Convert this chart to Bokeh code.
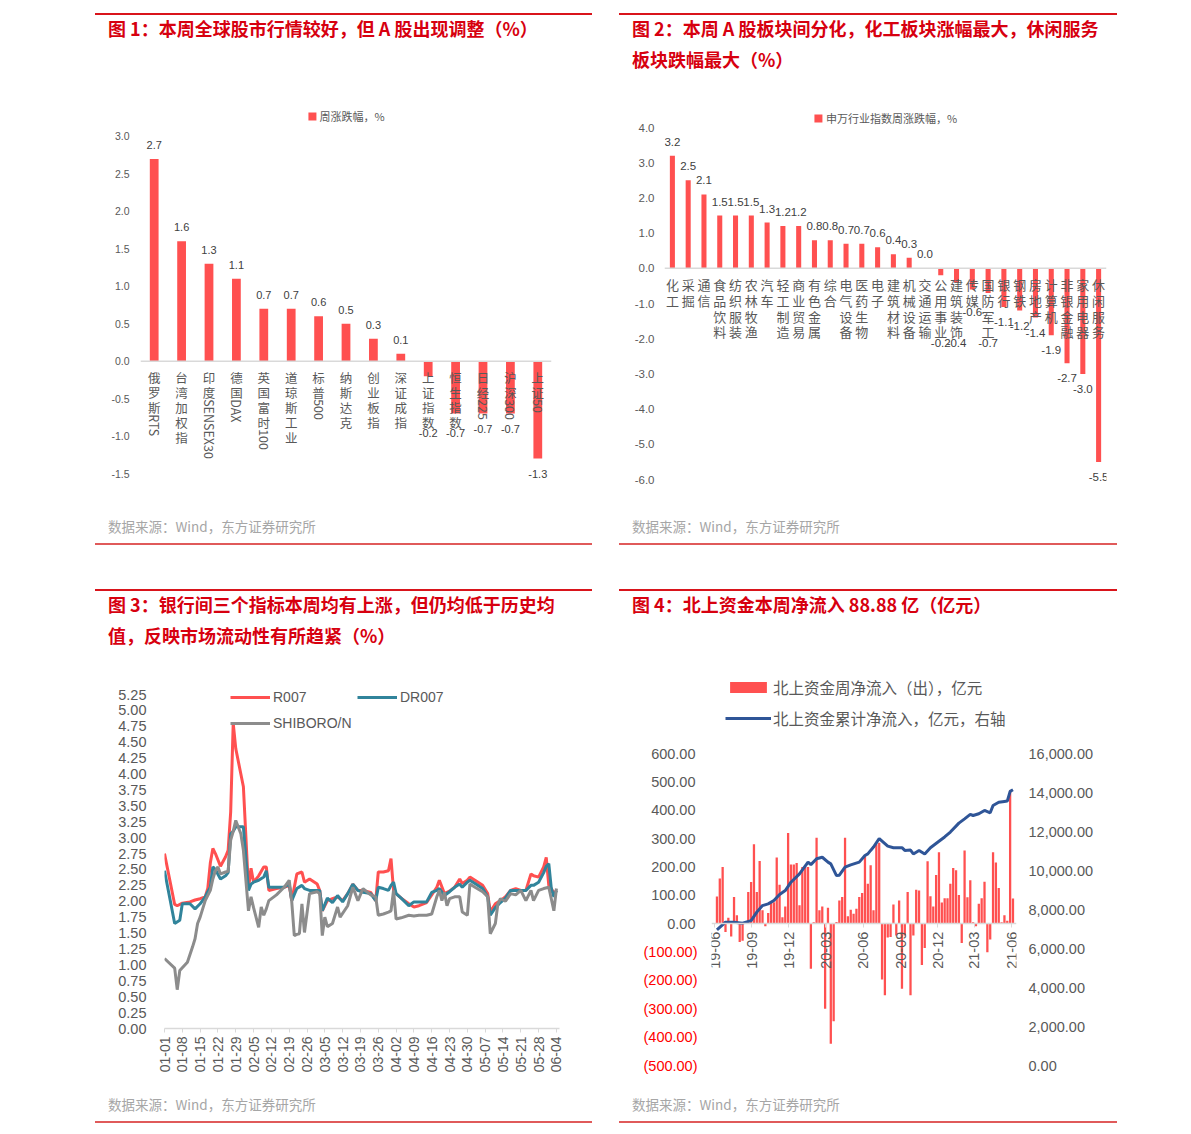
import math
import re
from datetime import datetime

import pandas as pd
from bokeh.core.properties import value
from bokeh.embed import file_html
from bokeh.layouts import column, row
from bokeh.models import (DatetimeTickFormatter, Div, FixedTicker, Legend, LegendItem, LinearAxis,
                          NumeralTickFormatter, Range1d, Spacer, Span)
from bokeh.plotting import figure
from bokeh.resources import INLINE

CJK = "Noto Sans CJK SC"
NUM = "Liberation Sans"
BAR_RED = "#ff5050"
TITLE_RED = "#d7000f"
AXIS_TXT = "#595959"
VALUE_TXT = "#404040"
ZERO_LINE = "#d9d9d9"

# ---------------- Figure 1: global equity indices, weekly change (%)
index_names = ["俄罗斯RTS", "台湾加权指", "印度SENSEX30", "德国DAX", "英国富时100", "道琼斯工业",
               "标普500", "纳斯达克", "创业板指", "深证成指", "上证指数", "恒生指数", "日经225",
               "沪深300", "上证50"]
index_change = [2.7, 1.6, 1.3, 1.1, 0.7, 0.7, 0.6, 0.5, 0.3, 0.1, -0.2, -0.7, -0.7, -0.7, -1.3]

# ---------------- Figure 2: Shenwan sector indices, weekly change (%)
sector_names = ["化工", "采掘", "通信", "食品饮料", "纺织服装", "农林牧渔", "汽车", "轻工制造",
                "商业贸易", "有色金属", "综合", "电气设备", "医药生物", "电子", "建筑材料",
                "机械设备", "交通运输", "公用事业", "建筑装饰", "传媒", "国防军工", "银行",
                "钢铁", "房地产", "计算机", "非银金融", "家用电器", "休闲服务"]
sector_change = [3.2, 2.5, 2.1, 1.5, 1.5, 1.5, 1.3, 1.2, 1.2, 0.8, 0.8, 0.7, 0.7, 0.6, 0.4,
                 0.3, 0.0, -0.2, -0.4, -0.6, -0.7, -1.1, -1.2, -1.4, -1.9, -2.7, -3.0, -5.5]

# ---------------- Figure 3: interbank rates 2021 (%)
r007 = [("01-01", 2.75), ("01-05", 1.95), ("01-06", 1.93), ("01-08", 1.97), ("01-11", 1.99),
        ("01-13", 2.02), ("01-15", 2.04), ("01-17", 2.07), ("01-18", 2.20), ("01-19", 2.60),
        ("01-20", 2.83), ("01-21", 2.75), ("01-23", 2.55), ("01-25", 2.70), ("01-26", 2.80),
        ("01-27", 3.40), ("01-28", 4.80), ("01-29", 4.40), ("01-31", 4.00), ("02-01", 3.80),
        ("02-03", 2.20), ("02-04", 2.52), ("02-05", 2.30), ("02-07", 2.40), ("02-09", 2.54),
        ("02-10", 2.54), ("02-11", 2.17), ("02-14", 2.20), ("02-17", 2.22), ("02-19", 2.25),
        ("02-20", 2.01), ("02-22", 2.43), ("02-24", 2.46), ("02-25", 2.30), ("02-27", 2.35),
        ("03-02", 2.27), ("03-03", 2.17), ("03-04", 1.85), ("03-06", 2.01), ("03-08", 2.04),
        ("03-10", 2.07), ("03-12", 2.01), ("03-14", 2.12), ("03-16", 2.27), ("03-18", 2.17),
        ("03-20", 2.17), ("03-23", 2.14), ("03-25", 2.01), ("03-26", 2.46), ("03-28", 2.46),
        ("03-30", 2.48), ("03-31", 2.67), ("04-01", 2.17), ("04-02", 2.12), ("04-04", 2.05),
        ("04-07", 1.96), ("04-09", 1.91), ("04-11", 1.93), ("04-14", 1.98), ("04-16", 2.10),
        ("04-18", 2.22), ("04-19", 2.33), ("04-21", 2.12), ("04-23", 2.16), ("04-25", 2.22),
        ("04-27", 2.35), ("04-28", 2.28), ("04-30", 2.33), ("05-01", 2.38), ("05-03", 2.33),
        ("05-06", 2.25), ("05-08", 2.12), ("05-09", 1.83), ("05-11", 1.96), ("05-13", 2.01),
        ("05-15", 2.07), ("05-17", 2.17), ("05-19", 2.20), ("05-21", 2.17), ("05-23", 2.17),
        ("05-25", 2.43), ("05-26", 2.40), ("05-28", 2.38), ("05-30", 2.54), ("05-31", 2.69),
        ("06-01", 2.25), ("06-02", 2.20), ("06-03", 2.12), ("06-04", 2.17)]
dr007 = [("01-01", 2.48), ("01-05", 1.65), ("01-07", 1.70), ("01-08", 1.96), ("01-11", 1.96),
         ("01-13", 1.88), ("01-15", 1.96), ("01-17", 2.07), ("01-18", 2.15), ("01-19", 2.22),
         ("01-20", 2.54), ("01-21", 2.50), ("01-23", 2.35), ("01-25", 2.40), ("01-26", 2.45),
         ("01-27", 3.06), ("01-28", 3.10), ("01-29", 3.17), ("01-31", 3.17), ("02-01", 3.17),
         ("02-03", 2.17), ("02-04", 2.27), ("02-05", 2.30), ("02-07", 2.33), ("02-09", 2.38),
         ("02-10", 2.48), ("02-11", 2.22), ("02-14", 2.22), ("02-17", 2.22), ("02-19", 2.27),
         ("02-20", 2.01), ("02-22", 2.20), ("02-24", 2.25), ("02-25", 2.20), ("02-27", 2.17),
         ("03-02", 2.17), ("03-03", 2.17), ("03-04", 1.85), ("03-06", 2.05), ("03-08", 1.98),
         ("03-10", 2.09), ("03-12", 1.99), ("03-14", 2.12), ("03-16", 2.27), ("03-18", 2.17),
         ("03-20", 2.14), ("03-23", 2.12), ("03-25", 2.01), ("03-26", 2.22), ("03-28", 2.20),
         ("03-30", 2.17), ("03-31", 2.25), ("04-01", 2.30), ("04-02", 2.12), ("04-04", 2.05),
         ("04-07", 1.93), ("04-09", 1.99), ("04-11", 1.99), ("04-14", 1.99), ("04-16", 2.14),
         ("04-18", 2.17), ("04-19", 2.20), ("04-21", 2.09), ("04-23", 2.15), ("04-25", 2.22),
         ("04-27", 2.27), ("04-28", 2.22), ("04-30", 2.30), ("05-01", 2.33), ("05-03", 2.28),
         ("05-06", 2.20), ("05-08", 2.07), ("05-09", 1.78), ("05-11", 1.90), ("05-13", 1.98),
         ("05-15", 2.05), ("05-17", 2.17), ("05-19", 2.17), ("05-21", 2.17), ("05-23", 2.17),
         ("05-25", 2.25), ("05-26", 2.25), ("05-28", 2.30), ("05-30", 2.45), ("05-31", 2.55),
         ("06-01", 2.59), ("06-02", 2.20), ("06-03", 2.07), ("06-04", 2.17)]
shibor_on = [("01-01", 1.10), ("01-05", 0.95), ("01-06", 0.61), ("01-07", 0.91), ("01-10", 1.04),
             ("01-12", 1.28), ("01-13", 1.41), ("01-14", 1.65), ("01-15", 1.75), ("01-17", 2.01),
             ("01-19", 2.17), ("01-20", 2.35), ("01-21", 2.48), ("01-22", 2.54), ("01-23", 2.43),
             ("01-25", 2.46), ("01-26", 2.47), ("01-27", 2.96), ("01-28", 3.10), ("01-29", 3.27),
             ("01-31", 3.06), ("02-01", 2.80), ("02-03", 1.85), ("02-04", 2.07), ("02-05", 1.90),
             ("02-07", 1.59), ("02-08", 1.91), ("02-09", 1.78), ("02-10", 1.88), ("02-11", 2.01),
             ("02-14", 2.10), ("02-17", 2.22), ("02-19", 2.33), ("02-20", 1.99), ("02-21", 1.46),
             ("02-22", 1.48), ("02-23", 1.49), ("02-24", 1.96), ("02-25", 1.51), ("02-27", 2.12),
             ("03-02", 2.15), ("03-03", 2.12), ("03-04", 1.46), ("03-05", 1.75), ("03-06", 1.60),
             ("03-08", 1.65), ("03-10", 1.91), ("03-11", 1.75), ("03-14", 1.93), ("03-16", 2.22),
             ("03-18", 2.01), ("03-20", 2.20), ("03-23", 2.10), ("03-25", 2.07), ("03-26", 1.78),
             ("03-28", 1.80), ("03-30", 1.83), ("03-31", 1.85), ("04-01", 2.17), ("04-02", 1.72),
             ("04-04", 1.74), ("04-07", 1.78), ("04-09", 1.77), ("04-11", 1.78), ("04-14", 1.78),
             ("04-16", 1.80), ("04-18", 2.07), ("04-19", 2.17), ("04-20", 2.01), ("04-21", 2.14),
             ("04-22", 1.93), ("04-23", 2.04), ("04-25", 2.07), ("04-27", 2.07), ("04-28", 1.83),
             ("04-30", 1.78), ("05-01", 2.27), ("05-03", 2.22), ("05-06", 2.15), ("05-08", 2.07),
             ("05-09", 1.49), ("05-11", 1.65), ("05-12", 1.96), ("05-13", 2.04), ("05-15", 2.00),
             ("05-17", 2.12), ("05-19", 2.10), ("05-21", 2.17), ("05-23", 2.01), ("05-25", 2.17),
             ("05-26", 2.01), ("05-28", 2.17), ("05-30", 2.20), ("06-01", 2.22), ("06-03", 1.85),
             ("06-04", 2.20)]

# ---------------- Figure 4: northbound flows (100 mn CNY), weekly from 2019-06-07
first_week = "2019-06-07"
weekly_flow = [96, 159, 200, -29, 21, -45, 94, 30, -65, -60,
               5, 112, 147, 280, 112, 221, 47, -9, 38, 76,
               76, 233, 137, 23, 61, 320, 209, 209, 214, 65,
               200, 200, 200, -159, 5, 303, 47, 61, -300, 56,
               -423, -344, 6, 82, 94, 303, 26, 49, 35, 53,
               94, 108, 241, 141, 206, 47, 280, 285, -197, -252,
               -49, -47, 68, -42, 82, -229, -42, 112, -252, -42,
               120, 117, -146, -86, 220, 97, 61, 172, 252, 75,
               90, 90, 141, 196, 188, 101, -68, 258, 93, 153,
               5, -9, 70, 90, 148, -101, -56, 252, 216, 126,
               5, 30, 10, 470, 88.88]
cum_week = [0, 3, 6, 9, 12, 14, 16, 18, 20, 22, 24, 26, 29, 32, 33, 35, 37, 39, 40, 42,
            43, 45, 47, 50, 52, 53, 54, 55, 57, 60, 62, 65, 66, 68, 69, 71, 73, 75, 78, 80,
            82, 85, 87, 89, 90, 92, 94, 96, 97, 99, 101, 102, 103, 104]
cum_flow = [6950, 7350, 7350, 7300, 7430, 7865, 8200, 8290, 8460, 8770, 8970, 9400, 9830, 10430,
            10300, 10600, 10680, 10430, 10340, 9740, 9760, 10170, 10290, 10430, 10770, 10850,
            11030, 11200, 11640, 11250, 11170, 11170, 11030, 11050, 10850, 11030, 10850, 11170,
            11500, 11720, 11970, 12430, 12650, 12880, 12820, 12910, 13080, 12960, 13330, 13500,
            13540, 13560, 14060, 14140]


def to_ms(dt):
    return (dt - datetime(1970, 1, 1)).total_seconds() * 1000.0


def split_label(name):
    m = re.match(r"([\u4e00-\u9fff]*)(.*)", name)
    return m.group(1), m.group(2)


def style_value_axis(ax, size, gap, fmt, font=NUM, color=AXIS_TXT):
    ax.formatter = NumeralTickFormatter(format=fmt)
    ax.axis_line_color = None
    ax.major_tick_line_color = None
    ax.minor_tick_line_color = None
    ax.major_tick_out = 0
    ax.major_tick_in = 0
    ax.major_label_standoff = gap
    ax.major_label_text_font = font
    ax.major_label_text_font_size = f"{size}px"
    ax.major_label_text_color = color


def style_date_axis(ax, ticks, fmt, size):
    ax.ticker = FixedTicker(ticks=ticks)
    ax.formatter = DatetimeTickFormatter(days=fmt, months=fmt, years=fmt, hours=fmt, hourmin=fmt)
    ax.major_label_orientation = math.pi / 2
    ax.axis_line_color = ZERO_LINE
    ax.axis_line_width = 1.5
    ax.major_tick_line_color = ZERO_LINE
    ax.major_tick_out = 4
    ax.major_tick_in = 0
    ax.minor_tick_line_color = None
    ax.major_label_standoff = 4
    ax.major_label_text_font = NUM
    ax.major_label_text_font_size = f"{size}px"
    ax.major_label_text_color = AXIS_TXT


def ranked_bars(names, vals, *, width, height, border, y_start, y_end, ticks, legend_text,
                tick_px, cat_px, val_px, tick_gap, legend_row, legend_px):
    left, right, top, bottom = border
    p = figure(width=width, height=height, output_backend="svg", toolbar_location=None,
               x_range=Range1d(-0.5, len(names) - 0.5), y_range=Range1d(y_start, y_end),
               min_border_left=left, min_border_right=right, min_border_top=top,
               min_border_bottom=bottom, outline_line_color=None, margin=0)
    ppu = (height - top - bottom) / (y_end - y_start)
    p.xaxis.visible = False
    p.xgrid.visible = False
    p.ygrid.visible = False
    ax = p.yaxis[0]
    ax.ticker = FixedTicker(ticks=ticks)
    style_value_axis(ax, tick_px, tick_gap, "0.0")

    p.add_layout(Span(location=0, dimension="width", line_color=ZERO_LINE, line_width=1.5))
    xs = list(range(len(names)))
    bars = p.vbar(x=xs, top=vals, width=0.32, fill_color=BAR_RED, line_color=None)

    # category names are written vertically under the zero line: Chinese characters
    # stacked upright, any trailing Latin part turned to read downwards
    step = cat_px * 1.2
    ch_x, ch_y, ch_t = [], [], []
    tail_x, tail_y, tail_t = [], [], []
    label_y = []
    for i, (v, name) in enumerate(zip(vals, names)):
        cjk, latin = split_label(name)
        for k, ch in enumerate(cjk):
            ch_x.append(i)
            ch_y.append(-(7 + k * step) / ppu)
            ch_t.append(ch)
        start = 7 + len(cjk) * step + 1
        if latin:
            tail_x.append(i)
            tail_y.append(-start / ppu)
            tail_t.append(latin)
        text_end = start + len(latin) * cat_px * 0.6
        if v >= 0:
            label_y.append(v + 14 / ppu)
        else:
            label_y.append(min(v - 15 / ppu, -(text_end + 4) / ppu))
    p.text(x=ch_x, y=ch_y, text=ch_t, text_align="center", text_baseline="top",
           text_font=value(CJK), text_font_size=f"{cat_px}px", text_color=AXIS_TXT)
    p.text(x=tail_x, y=tail_y, text=tail_t, angle=-math.pi / 2, text_align="left",
           text_baseline="middle", text_font=value(CJK), text_font_size=f"{cat_px}px",
           text_color=AXIS_TXT)
    p.text(x=xs, y=label_y, text=[f"{v:.1f}" for v in vals], text_align="center",
           text_baseline="middle", text_font=value(NUM), text_font_size=f"{val_px}px",
           text_color=VALUE_TXT)

    legend = Legend(items=[LegendItem(label=legend_text, renderers=[bars])],
                    location="top_center", orientation="horizontal", border_line_color=None,
                    background_fill_alpha=0, padding=0, margin=0, glyph_width=10,
                    glyph_height=10, label_height=legend_row, label_standoff=3,
                    label_text_font=CJK, label_text_font_size=f"{legend_px}px",
                    label_text_color=AXIS_TXT)
    p.add_layout(legend)
    return p


# ---- Figure 1
p1 = ranked_bars(index_names, index_change, width=497, height=430, border=(45, 41, 28, 25),
                 y_start=-1.5 - 12 / 75, y_end=3.0 + 28 / 75,
                 ticks=[-1.5, -1.0, -0.5, 0, 0.5, 1.0, 1.5, 2.0, 2.5, 3.0],
                 legend_text="周涨跌幅，%", tick_px=10.5, cat_px=12.5, val_px=11,
                 tick_gap=11, legend_row=14, legend_px=11)

# ---- Figure 2
p2 = ranked_bars(sector_names, sector_change, width=498, height=430, border=(45, 11, 28, 19),
                 y_start=-6.0 - 12 / 35.2, y_end=4.0 + 19 / 35.2, ticks=list(range(-6, 5)),
                 legend_text="申万行业指数周涨跌幅，%", tick_px=11.5, cat_px=13, val_px=11.5,
                 tick_gap=10, legend_row=20, legend_px=11)

# ---- Figure 3
p3 = figure(width=497, height=432, output_backend="svg", toolbar_location=None,
            x_axis_type="datetime",
            x_range=Range1d(datetime(2021, 1, 1), datetime(2021, 6, 5, 5)),
            y_range=Range1d(0, 5.25 + 14 / 63.6), min_border_left=69, min_border_right=33,
            min_border_top=24, min_border_bottom=60, outline_line_color=None, margin=0)
p3.xgrid.visible = False
p3.ygrid.visible = False
ax3 = p3.yaxis[0]
ax3.ticker = FixedTicker(ticks=[i * 0.25 for i in range(22)])
style_value_axis(ax3, 14.5, 18, "0.00")
style_date_axis(p3.xaxis[0],
                [to_ms(d) for d in pd.date_range("2021-01-01", "2021-06-04", freq="7D")],
                "%m-%d", 14)

rate_series = [("R007", r007, BAR_RED), ("DR007", dr007, "#31849b"),
               ("SHIBORO/N", shibor_on, "#8c8c8c")]
rate_items = []
for name, pairs, color in rate_series:
    xs = [datetime.strptime("2021-" + d, "%Y-%m-%d") for d, _ in pairs]
    ys = [v for _, v in pairs]
    r = p3.line(xs, ys, line_color=color, line_width=3)
    rate_items.append(LegendItem(label=name, renderers=[r]))
leg3 = Legend(items=rate_items, location=(66, 292), orientation="horizontal", ncols=2,
              border_line_color=None, background_fill_alpha=0, padding=0, margin=0, spacing=0,
              glyph_width=40, glyph_height=26, label_height=26, label_width=84, label_standoff=3,
              label_text_font=NUM, label_text_font_size="14px", label_text_color=AXIS_TXT)
p3.add_layout(leg3)

# ---- Figure 4
x4_start = datetime(2019, 5, 24, 14)
flow_px = 312 / 1100      # pixels per 100 mn CNY on the left scale
cum_px = 312 / 16000      # pixels per 100 mn CNY on the right scale
p4 = figure(width=498, height=432, output_backend="svg", toolbar_location=None,
            x_axis_type="datetime", x_range=Range1d(x4_start, datetime(2021, 6, 12, 16)),
            y_range=Range1d(-500, 600 + 88 / flow_px), min_border_left=92, min_border_right=101,
            min_border_top=9, min_border_bottom=23, outline_line_color=None, margin=0)
p4.extra_y_ranges = {"cum": Range1d(0, 16000 + 88 / cum_px)}
p4.xgrid.visible = False
p4.ygrid.visible = False
weeks = pd.date_range(first_week, periods=len(weekly_flow), freq="7D")
flow_bars = p4.vbar(x=weeks, top=weekly_flow, width=5.6 * 86400000, fill_color=BAR_RED,
                    line_color=None)
cum_line = p4.line(weeks[cum_week], cum_flow, y_range_name="cum", line_color="#2f5597",
                   line_width=3)

# left scale: positive labels grey next to the frame, negative labels red in brackets,
# pulled back onto the same column by a negative standoff
ax4 = p4.yaxis[0]
ax4.ticker = FixedTicker(ticks=[0, 100, 200, 300, 400, 500, 600])
style_value_axis(ax4, 14.5, 16, "0.00")
neg4 = LinearAxis(ticker=FixedTicker(ticks=[-100, -200, -300, -400, -500]))
style_value_axis(neg4, 14.5, -49, "(0.00)", color="#ff0000")
p4.add_layout(neg4, "left")
right4 = LinearAxis(y_range_name="cum", ticker=FixedTicker(ticks=list(range(0, 16001, 2000))))
style_value_axis(right4, 14.5, 12, "0,0.00")
p4.add_layout(right4, "right")

xa4 = p4.xaxis[0]
xa4.fixed_location = 0
style_date_axis(xa4, [to_ms(d) for d in pd.date_range("2019-06-01", "2021-06-01", freq="3MS")],
                "%y-%m", 14.5)

leg4 = Legend(items=[LegendItem(label="北上资金周净流入（出），亿元", renderers=[flow_bars]),
                     LegendItem(label="北上资金累计净流入，亿元，右轴", renderers=[cum_line])],
              location=(14, 332), border_line_color=None, background_fill_alpha=0, padding=0,
              margin=0, spacing=0, glyph_width=46, glyph_height=14, label_height=31,
              label_standoff=2, label_text_font=CJK, label_text_font_size="15.5px",
              label_text_color=AXIS_TXT)
p4.add_layout(leg4)


# ---------------- page furniture
def rule(w, h, color):
    return Div(text="", width=w, height=h, margin=0, styles={"background-color": color})


def title_block(w, html):
    style = (f"margin-top:-2px;padding-left:13px;font-family:'{CJK}';font-weight:bold;"
             f"font-size:18px;line-height:31px;color:{TITLE_RED};white-space:nowrap;")
    return Div(text=f'<div style="{style}">{html}</div>', width=w, height=65, margin=0)


def footer_block(w):
    style = (f"padding-left:13px;font-family:'{CJK}';font-size:13.5px;line-height:33px;"
             "color:#a6a6a6;white-space:nowrap;")
    return Div(text=f'<div style="{style}">数据来源：Wind，东方证券研究所</div>', width=w,
               height=33, margin=0)


def panel(w, html, fig):
    return column(rule(w, 2, "#d9141b"), title_block(w, html), fig, footer_block(w),
                  rule(w, 2, "#e05a5a"), spacing=0, margin=0)


panel1 = panel(497, "图 1：本周全球股市行情较好，但 A 股出现调整（%）", p1)
panel2 = panel(498, "图 2：本周 A 股板块间分化，化工板块涨幅最大，休闲服务<br>板块跌幅最大（%）", p2)
panel3 = panel(497, "图 3：银行间三个指标本周均有上涨，但仍均低于历史均<br>值，反映市场流动性有所趋紧（%）", p3)
panel4 = panel(498, "图 4：北上资金本周净流入 88.88 亿（亿元）", p4)

page = column(
    Spacer(width=1117, height=13, margin=0),
    row(Spacer(width=95, height=10, margin=0), panel1, Spacer(width=27, height=10, margin=0), panel2,
        spacing=0, margin=0),
    Spacer(width=1117, height=44, margin=0),
    row(Spacer(width=95, height=10, margin=0), panel3, Spacer(width=27, height=10, margin=0), panel4,
        spacing=0, margin=0),
    spacing=0, margin=0)

with open("out.html", "w") as f:
    f.write(file_html(page, INLINE))
